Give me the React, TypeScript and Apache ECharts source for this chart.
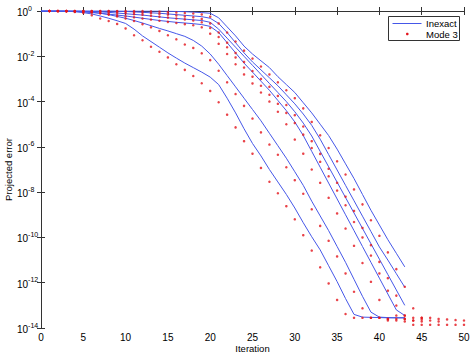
import React, { useEffect, useRef } from "react";
import * as echarts from "echarts";

// Projected error is stored as log10(value); the y axis is a value axis in log10 units.
const xTicks = [0, 5, 10, 15, 20, 25, 30, 35, 40, 45, 50];
const yExponents = [0, -2, -4, -6, -8, -10, -12, -14];

// "Inexact" curves, iterations 0..43
const inexact1 = [0, 0, 0, -0.01, -0.03, -0.07, -0.13, -0.22, -0.32, -0.43, -0.55, -0.8, -1.1, -1.35, -1.6, -1.85, -2.08, -2.3, -2.5, -2.7, -2.92, -3.25, -3.85, -4.5, -5.2, -5.85, -6.4, -7.0, -7.55, -8.1, -8.7, -9.35, -9.97, -10.55, -11.25, -11.95, -12.7, -13.4, -13.52, -13.53, -13.54, -13.55, -13.55, -13.55];
const inexact2 = [0, 0, 0, 0, -0.01, -0.02, -0.05, -0.1, -0.16, -0.24, -0.32, -0.42, -0.53, -0.65, -0.77, -0.88, -1.0, -1.12, -1.3, -1.55, -1.9, -2.35, -2.85, -3.35, -3.85, -4.35, -4.85, -5.4, -5.95, -6.5, -7.1, -7.7, -8.4, -9.05, -9.7, -10.4, -11.1, -11.85, -12.6, -13.3, -13.52, -13.54, -13.55, -13.55];
const inexact3 = [0, 0, 0, -0.01, -0.02, -0.04, -0.07, -0.1, -0.14, -0.18, -0.22, -0.27, -0.32, -0.37, -0.42, -0.46, -0.5, -0.53, -0.56, -0.6, -0.68, -0.95, -1.4, -1.85, -2.3, -2.7, -3.1, -3.5, -3.95, -4.4, -4.9, -5.5, -6.2, -6.9, -7.6, -8.3, -9.0, -9.7, -10.4, -11.1, -11.8, -12.5, -13.2, -13.45];
const inexact4 = [0, 0, 0, 0, 0, -0.01, -0.02, -0.04, -0.06, -0.09, -0.12, -0.15, -0.18, -0.22, -0.26, -0.3, -0.33, -0.36, -0.39, -0.42, -0.5, -0.8, -1.2, -1.6, -2.0, -2.4, -2.8, -3.2, -3.6, -4.0, -4.45, -4.95, -5.52, -6.2, -6.88, -7.56, -8.24, -8.92, -9.6, -10.28, -10.96, -11.64, -12.32, -13.0];
const inexact5 = [0, 0, 0, 0, 0, 0, 0, 0, 0, -0.01, -0.02, -0.04, -0.06, -0.08, -0.1, -0.13, -0.16, -0.19, -0.22, -0.25, -0.32, -0.55, -0.95, -1.4, -1.85, -2.25, -2.6, -2.95, -3.3, -3.7, -4.1, -4.55, -5.05, -5.66, -6.34, -7.02, -7.7, -8.38, -9.06, -9.74, -10.42, -11.0, -11.6, -12.2];
const inexact6 = [0, 0, 0, 0, 0, 0, 0, 0, 0, 0, 0, 0, 0, 0, 0, -0.01, -0.02, -0.03, -0.05, -0.07, -0.1, -0.3, -0.7, -1.1, -1.55, -1.9, -2.2, -2.5, -2.9, -3.25, -3.6, -4.05, -4.5, -5.0, -5.5, -6.1, -6.75, -7.4, -8.1, -8.8, -9.45, -10.1, -10.7, -11.3];

// "Mode 3" dots, starting at iteration 1
const mode3a = [0, -0.01, -0.02, -0.04, -0.09, -0.19, -0.33, -0.44, -0.57, -0.77, -1.07, -1.29, -1.58, -1.8, -2.05, -2.35, -2.6, -2.87, -3.19, -3.53, -4.03, -4.58, -5.14, -5.75, -6.3, -6.93, -7.54, -8.05, -8.62, -9.2, -9.9, -10.58, -11.32, -12.03, -12.76, -13.38, -13.55, -13.55, -13.55, -13.55, -13.6, -13.6, -13.6];
const mode3b = [0, 0, 0, -0.01, -0.02, -0.05, -0.1, -0.16, -0.24, -0.33, -0.44, -0.58, -0.72, -0.88, -1.07, -1.25, -1.48, -1.63, -1.87, -2.17, -2.64, -3.15, -3.67, -4.19, -4.75, -5.36, -5.9, -6.35, -6.9, -7.47, -8.07, -8.76, -9.49, -10.15, -10.84, -11.59, -12.4, -13.13, -13.55, -13.55, -13.67, -13.67, -13.71, -13.67, -13.71, -13.67, -13.71];
const mode3c = [0, 0, -0.01, -0.02, -0.04, -0.07, -0.1, -0.14, -0.18, -0.23, -0.28, -0.33, -0.38, -0.43, -0.48, -0.53, -0.58, -0.63, -0.72, -1.0, -1.45, -1.9, -2.35, -2.8, -3.2, -3.6, -4.0, -4.45, -5.0, -5.68, -6.3, -7.0, -7.59, -8.25, -8.94, -9.61, -10.37, -11.13, -11.96, -12.76, -13.6, -13.45, -13.45, -13.55, -13.55, -13.55, -13.6, -13.62, -13.65, -13.67];
const mode3d = [0, 0, 0, 0, -0.01, -0.02, -0.04, -0.06, -0.08, -0.11, -0.14, -0.17, -0.21, -0.25, -0.29, -0.33, -0.37, -0.42, -0.5, -0.75, -1.15, -1.6, -2.05, -2.5, -2.9, -3.3, -3.7, -4.1, -4.5, -4.95, -5.46, -6.05, -6.66, -7.3, -7.93, -8.58, -9.32, -10.0, -10.8, -11.59, -12.35, -13.01, -13.45, -13.86, -13.86, -13.86, -13.86, -13.86, -13.86, -13.86];
const mode3e = [0, 0, 0, 0, 0, 0, 0, 0, -0.02, -0.04, -0.06, -0.08, -0.1, -0.13, -0.16, -0.2, -0.24, -0.28, -0.35, -0.55, -0.95, -1.4, -1.85, -2.25, -2.65, -3.0, -3.35, -3.75, -4.15, -4.6, -5.1, -5.75, -6.31, -6.97, -7.59, -8.2, -8.83, -9.58, -10.34, -11.08, -11.8, -12.57, -13.6, -13.67, -13.62];
const mode3f = [0, 0, 0, 0, 0, 0, 0, 0, 0, 0, 0, 0, -0.02, -0.03, -0.05, -0.07, -0.09, -0.11, -0.15, -0.25, -0.55, -0.95, -1.35, -1.75, -2.1, -2.45, -2.8, -3.15, -3.5, -3.85, -4.3, -4.9, -5.49, -6.05, -6.64, -7.22, -7.88, -8.54, -9.24, -9.93, -10.66, -11.4, -12.18, -13.13, -13.55];

const inexactSeries = [inexact1, inexact2, inexact3, inexact4, inexact5, inexact6];
const mode3Series = [mode3a, mode3b, mode3c, mode3d, mode3e, mode3f];

const FONT = "Liberation Sans, Arial, Helvetica, sans-serif";
const BLUE = "#4557e8";
const RED = "#e3141c";
const AXIS = "#333";

export default function App() {
  const ref = useRef<HTMLDivElement>(null);

  useEffect(() => {
    if (!ref.current) return;
    const chart = echarts.init(ref.current, null, { renderer: "svg" });

    const lineSeries = inexactSeries.map((arr) => ({
      name: "Inexact",
      type: "line",
      data: arr.map((v, i) => [i, v]),
      showSymbol: false,
      symbol: "none",
      lineStyle: { color: BLUE, width: 1 },
      z: 2,
    }));
    const dotSeries = mode3Series.map((arr) => ({
      name: "Mode 3",
      type: "scatter",
      data: arr.map((v, i) => [i + 1, v]),
      symbol: "circle",
      symbolSize: 2.5,
      itemStyle: { color: RED },
      z: 3,
    }));

    const yAxisBase = {
      type: "value",
      min: -14,
      max: 0,
      interval: 2,
      splitLine: { show: false },
      axisLine: { show: true, lineStyle: { color: AXIS, width: 1 } },
      axisTick: { show: true, inside: true, length: 4, lineStyle: { color: AXIS } },
    };
    const xAxisBase = {
      type: "value",
      min: xTicks[0],
      max: xTicks[xTicks.length - 1],
      interval: 5,
      splitLine: { show: false },
      axisLine: { show: true, lineStyle: { color: AXIS, width: 1 } },
      axisTick: { show: true, inside: true, length: 4, lineStyle: { color: AXIS } },
    };

    chart.setOption({
      animation: false,
      backgroundColor: "#fff",
      grid: { left: 41, right: 10, top: 11, bottom: 27, containLabel: false, outerBoundsMode: "none" },
      xAxis: [
        {
          ...xAxisBase,
          position: "bottom",
          name: "Iteration",
          nameLocation: "middle",
          nameGap: 15,
          nameMoveOverlap: false,
          nameTextStyle: { color: "#000", fontSize: 9.5, fontFamily: FONT },
          axisLabel: { color: "#000", fontSize: 10, fontFamily: FONT, margin: 4 },
        },
        { ...xAxisBase, position: "top", axisLabel: { show: false } },
      ],
      yAxis: [
        {
          ...yAxisBase,
          position: "left",
          name: "Projected error",
          nameLocation: "middle",
          nameGap: 28,
          nameMoveOverlap: false,
          nameRotate: 90,
          nameTextStyle: { color: "#000", fontSize: 9.5, fontFamily: FONT },
          axisLabel: {
            align: "left",
            margin: 24,
            formatter: (v: number) =>
              yExponents.includes(v) ? `{b|10}{s|${v}}` : "",
            rich: {
              b: { fontSize: 10, fontFamily: FONT, color: "#000", lineHeight: 13, verticalAlign: "bottom" },
              s: { fontSize: 7, fontFamily: FONT, color: "#000", verticalAlign: "top" },
            },
          },
        },
        { ...yAxisBase, position: "right", axisLabel: { show: false } },
      ],
      series: [...lineSeries, ...dotSeries],
      graphic: [
        {
          type: "rect",
          shape: { x: 388.5, y: 16.5, width: 71, height: 24 },
          style: { fill: "#fff", stroke: AXIS, lineWidth: 1 },
          z: 100,
        },
        {
          type: "line",
          shape: { x1: 392.5, y1: 23.5, x2: 421.5, y2: 23.5 },
          style: { stroke: BLUE, lineWidth: 1 },
          z: 101,
        },
        {
          type: "circle",
          shape: { cx: 407.3, cy: 34, r: 1.3 },
          style: { fill: RED },
          z: 101,
        },
        {
          type: "text",
          x: 426,
          y: 23.5,
          style: { text: "Inexact", fill: "#000", font: `9.5px ${FONT}`, textVerticalAlign: "middle", verticalAlign: "middle" },
          z: 101,
        },
        {
          type: "text",
          x: 426,
          y: 34,
          style: { text: "Mode 3", fill: "#000", font: `9.5px ${FONT}`, textVerticalAlign: "middle", verticalAlign: "middle" },
          z: 101,
        },
      ],
    });

    return () => chart.dispose();
  }, []);

  return (
    <div
      ref={ref}
      style={{ position: "fixed", left: 0, top: 0, width: 474, height: 355, background: "#fff" }}
    />
  );
}
